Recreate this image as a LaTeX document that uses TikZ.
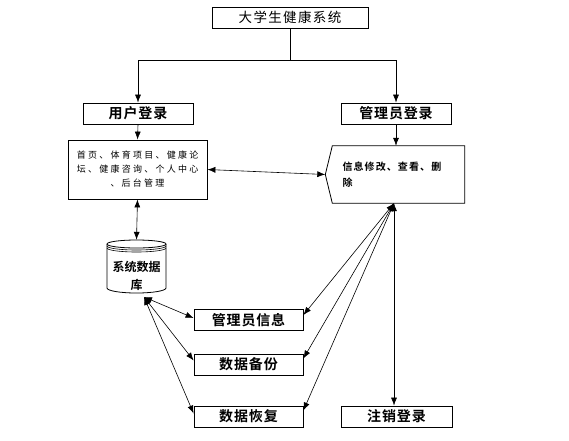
\documentclass[tikz,border=0pt]{standalone}
\usepackage{fontspec}
\setmainfont{Noto Sans CJK SC}[BoldFont={Noto Sans CJK SC Bold}]
\usetikzlibrary{arrows.meta}

\begin{document}
\begin{tikzpicture}[x=1pt,y=-1pt,
    box/.style={draw,line width=0.8pt,inner sep=0pt,minimum height=21pt,
      font=\fontsize{14}{16}\selectfont\bfseries\addfontfeatures{LetterSpace=6}},
    conn/.style={line width=0.6pt},
    >={Latex[length=8pt,width=6pt]}]
\useasboundingbox (0,0) rectangle (569,440);
\node (sys) [box,minimum width=156pt,
    font=\fontsize{13.5}{16}\selectfont\addfontfeatures{LetterSpace=10}] at (290,17.5) {大学生健康系统};
\node (user) [box,minimum width=110pt] at (138,113.5) {用户登录};
\node (admin) [box,minimum width=110pt] at (396,113.5) {管理员登录};
\node (userpage) [draw,line width=0.8pt,minimum width=139pt,minimum height=59pt,align=center,
    font=\fontsize{9}{14}\selectfont\addfontfeatures{LetterSpace=25}] at (137.5,169.5)
    {首页、体育项目、健康论\\坛、健康咨询、个人中心\\、后台管理};
\node (adminpage) [minimum width=132pt,minimum height=57pt,inner xsep=10pt,text width=112pt,align=left,
    font=\fontsize{10}{16}\selectfont\bfseries\addfontfeatures{LetterSpace=11}] at (398.5,174.5)
    {信息修改、查看、删\\除};
\draw[line width=0.8pt] (adminpage.north west) -- (adminpage.north east) -- (adminpage.south east)
    -- (adminpage.south west) -- ([xshift=-7pt]adminpage.west) coordinate (admintip) -- cycle;
\node (db) [minimum width=59pt,minimum height=53pt] at (136.5,266.5) {};
\node (dblabel) [align=center,font=\fontsize{12}{18}\selectfont\bfseries] at (136.5,276) {系统数据\\库};
\draw[line width=0.8pt] (107,244) -- (107,288) arc[start angle=180,end angle=360,x radius=29.5pt,y radius=5pt] -- (166,244);
\draw[line width=0.8pt] (136.5,244) ellipse[x radius=29.5pt,y radius=4pt];
\draw[line width=0.6pt] (107,246) arc[start angle=180,end angle=360,x radius=29.5pt,y radius=4pt];
\draw[line width=0.6pt] (107,248) arc[start angle=180,end angle=360,x radius=29.5pt,y radius=4pt];
\node (info) [box,minimum width=109pt] at (248.5,320) {管理员信息};
\node (backup) [box,minimum width=109pt] at (248.5,364.5) {数据备份};
\node (restore) [box,minimum width=109pt] at (248.5,416.5) {数据恢复};
\node (logout) [box,minimum width=111pt] at (396.5,416.5) {注销登录};
\coordinate (split) at (290,60);
\coordinate (hub) at ([xshift=-4.5pt]adminpage.south);
\coordinate (dbfoot) at (144,297);
\draw[conn] (sys.south) -- (split);
\draw[conn,->] (split) -| (user.north);
\draw[conn,->] (split) -| (admin.north);
\draw[conn,->] (user.south) -- (userpage.north);
\draw[conn,->] (admin.south) -- (admin.south |- adminpage.north);
\draw[conn,<->] (userpage.east) -- (admintip);
\draw[conn,<->] (userpage.south) -- (db.north);
\draw[conn,<->] (hub) -- ([yshift=5pt]info.east);
\draw[conn,<->] (hub) -- ([yshift=6pt]backup.east);
\draw[conn,<->] (hub) -- ([yshift=6pt]restore.east);
\draw[conn,<->] (hub) -- (hub |- logout.north);
\draw[conn,<->] (dbfoot) -- ([yshift=2pt]info.west);
\draw[conn,<->] (dbfoot) -- ([yshift=4pt]backup.west);
\draw[conn,<->] (dbfoot) -- ([yshift=3pt]restore.west);
\end{tikzpicture}
\end{document}
